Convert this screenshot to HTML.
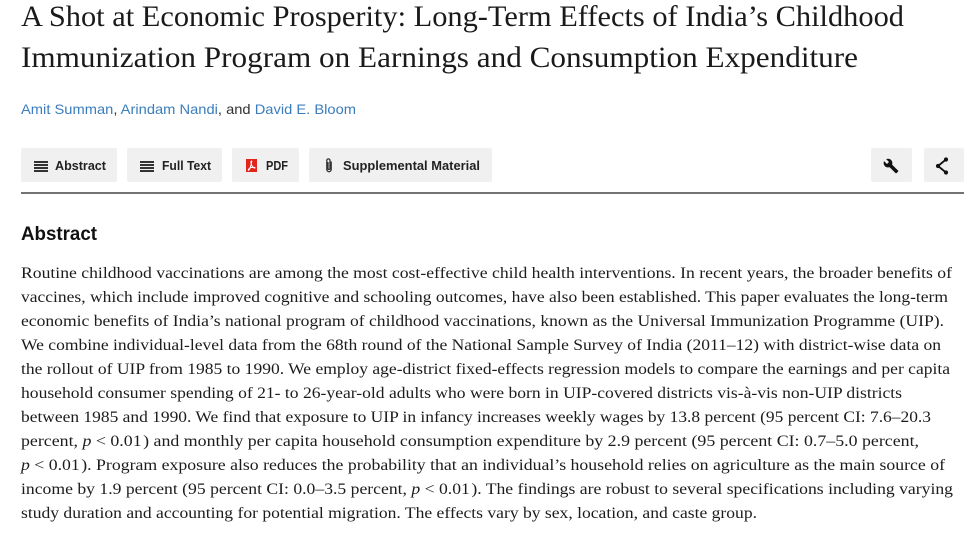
<!DOCTYPE html>
<html><head><meta charset="utf-8">
<style>
html,body{margin:0;padding:0;background:#fff;}
body{width:978px;height:542px;position:relative;overflow:hidden;}
.a{position:absolute;white-space:nowrap;transform-origin:0 0;}
.t{font-family:"Liberation Serif",serif;font-size:30px;line-height:30px;color:#1a1a1a;}
.p{font-family:"Liberation Serif",serif;font-size:16px;line-height:16px;color:#1c1c1c;}
.au{font-family:"Liberation Sans",sans-serif;font-size:14px;line-height:14px;color:#333;}
.au span{color:#3b7dbd;}
.btn{position:absolute;top:148px;height:34px;background:#f0f0f0;border-radius:2px;}
.bt{font-family:"Liberation Sans",sans-serif;font-weight:bold;font-size:13px;line-height:13px;color:#222;}
.h{font-family:"Liberation Sans",sans-serif;font-weight:bold;font-size:19px;line-height:19px;color:#111;}
.ham{position:absolute;width:14px;height:11px;top:161px;
 background:repeating-linear-gradient(to bottom,#333 0,#333 2px,transparent 2px,transparent 3px);}
i{font-style:italic;}
</style></head><body>

<div class="a t f" style="left:21px;top:2px;--w:883">A Shot at Economic Prosperity: Long-Term Effects of India’s Childhood</div>
<div class="a t f" style="left:21px;top:43px;--w:837">Immunization Program on Earnings and Consumption Expenditure</div>

<div class="a au f" style="left:21px;top:102px;--w:335"><span>Amit Summan</span>, <span>Arindam Nandi</span>, and <span>David E. Bloom</span></div>

<div class="btn" style="left:21px;width:96px;"></div>
<div class="btn" style="left:127px;width:95px;"></div>
<div class="btn" style="left:232px;width:67px;"></div>
<div class="btn" style="left:309px;width:183px;"></div>
<div class="btn" style="left:871px;width:41px;"></div>
<div class="btn" style="left:924px;width:40px;"></div>

<div class="ham" style="left:34px;"></div>
<div class="a bt f" style="left:55px;top:159px;--w:51">Abstract</div>
<div class="ham" style="left:140px;"></div>
<div class="a bt f" style="left:162px;top:159px;--w:49">Full Text</div>

<svg class="a" style="left:246px;top:159px" width="11" height="13" viewBox="0 0 11 13">
 <rect x="0" y="0" width="11" height="13" fill="#e3241b"/>
 <path d="M5.5 2 C4.5 2 5 5 5.8 6.5 C6.6 8 8.5 9.5 9 9 C9.5 8.3 7 8 5 8.6 C3 9.2 1.8 11 2.4 11.3 C3 11.6 4.5 8.5 5 6 C5.4 4 6.2 2 5.5 2 Z" fill="none" stroke="#fff" stroke-width="1"/>
</svg>
<div class="a bt f" style="left:266px;top:159px;--w:22">PDF</div>

<svg class="a" style="left:324px;top:157px" width="10" height="17" viewBox="0 0 10 17">
 <path d="M7.2 4.5 V12.5 A2.2 2.2 0 0 1 2.8 12.5 V3.5 A1.6 1.6 0 0 1 6 3.5 V11.5 A1 1 0 0 1 4 11.5 V5" fill="none" stroke="#333" stroke-width="1.3"/>
</svg>
<div class="a bt f" style="left:343px;top:159px;--w:137">Supplemental Material</div>

<svg class="a" style="left:883px;top:158px" width="16" height="16" viewBox="0 0 24 24">
 <path d="M22.7 19l-9.1-9.1c.9-2.3.4-5-1.5-6.9-2-2-5-2.4-7.4-1.3L9 6 6 9 1.6 4.7C.4 7.1.9 10.1 2.9 12.1c1.9 1.9 4.6 2.4 6.9 1.5l9.1 9.1c.4.4 1 .4 1.4 0l2.3-2.3c.5-.4.5-1.1.1-1.4z" fill="#111"/>
</svg>
<svg class="a" style="left:934px;top:156px" width="16" height="20" viewBox="0 0 16 20">
 <polyline points="12,3.5 4,10 12,16.5" fill="none" stroke="#111" stroke-width="1.8"/>
 <circle cx="12" cy="3.5" r="2.1" fill="#111"/>
 <circle cx="4" cy="10" r="2.1" fill="#111"/>
 <circle cx="12" cy="16.5" r="2.1" fill="#111"/>
</svg>

<div class="a" style="left:21px;top:192px;width:943px;height:2px;background:#737373;"></div>

<div class="a h f" style="left:21px;top:225px;--w:76">Abstract</div>

<div class="a p f" style="left:21px;top:265.6px;--w:931">Routine childhood vaccinations are among the most cost-effective child health interventions. In recent years, the broader benefits of</div>
<div class="a p f" style="left:21px;top:289.6px;--w:927">vaccines, which include improved cognitive and schooling outcomes, have also been established. This paper evaluates the long-term</div>
<div class="a p f" style="left:21px;top:313.6px;--w:923">economic benefits of India’s national program of childhood vaccinations, known as the Universal Immunization Programme (UIP).</div>
<div class="a p f" style="left:21px;top:337.6px;--w:920">We combine individual-level data from the 68th round of the National Sample Survey of India (2011–12) with district-wise data on</div>
<div class="a p f" style="left:21px;top:361.6px;--w:929">the rollout of UIP from 1985 to 1990. We employ age-district fixed-effects regression models to compare the earnings and per capita</div>
<div class="a p f" style="left:21px;top:385.6px;--w:881">household consumer spending of 21- to 26-year-old adults who were born in UIP-covered districts vis-à-vis non-UIP districts</div>
<div class="a p f" style="left:21px;top:409.6px;--w:910">between 1985 and 1990. We find that exposure to UIP in infancy increases weekly wages by 13.8 percent (95 percent CI: 7.6–20.3</div>
<div class="a p f" style="left:21px;top:433.6px;--w:898">percent, <i>p</i>&nbsp;&lt;&nbsp;0.01&#8202;) and monthly per capita household consumption expenditure by 2.9 percent (95 percent CI: 0.7–5.0 percent,</div>
<div class="a p f" style="left:21px;top:457.6px;--w:924"><i>p</i>&nbsp;&lt;&nbsp;0.01&#8202;). Program exposure also reduces the probability that an individual’s household relies on agriculture as the main source of</div>
<div class="a p f" style="left:21px;top:481.6px;--w:932">income by 1.9 percent (95 percent CI: 0.0–3.5 percent, <i>p</i>&nbsp;&lt;&nbsp;0.01&#8202;). The findings are robust to several specifications including varying</div>
<div class="a p f" style="left:21px;top:505.6px;--w:736">study duration and accounting for potential migration. The effects vary by sex, location, and caste group.</div>

<script>
(function(){
 var els=document.querySelectorAll('.f');
 for(var i=0;i<els.length;i++){
  var e=els[i];
  var w=parseFloat(getComputedStyle(e).getPropertyValue('--w'));
  var nw=e.getBoundingClientRect().width;
  if(w&&nw){e.style.transform='scaleX('+(w/nw)+')';}
 }
})();
</script>
</body></html>
